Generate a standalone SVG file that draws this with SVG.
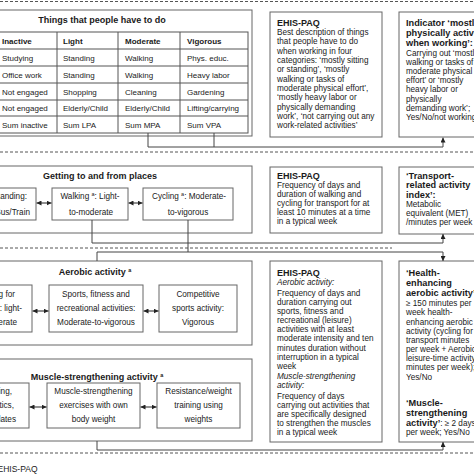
<svg xmlns="http://www.w3.org/2000/svg" width="474" height="474" viewBox="0 0 474 474">
<defs>
<marker id="ah" viewBox="0 0 10 10" refX="10" refY="5" markerWidth="5" markerHeight="5" markerUnits="userSpaceOnUse" orient="auto-start-reverse"><path d="M0,0 L10,5 L0,10 z" fill="#222"/></marker>
<style>
text{font-family:"Liberation Sans",Arial,sans-serif;fill:#1a1a1a}
.box{fill:#fff;stroke:#666;stroke-width:1}
.grid{fill:none;stroke:#555;stroke-width:1}
.t{font-size:8px}
.th{font-size:8px;font-weight:bold}
.h{font-size:9px;font-weight:bold}
.hb{font-size:9.2px;font-weight:bold}
.d{font-size:8.2px}
.i{font-size:8.2px;font-style:italic}
.c{text-anchor:middle}
.e{text-anchor:end}
.dash{stroke:#555;stroke-width:1;stroke-dasharray:3,2;fill:none}
.con{stroke:#444;stroke-width:1;fill:none}
.dbl{stroke:#222;stroke-width:1;fill:none;marker-start:url(#ah);marker-end:url(#ah)}
.sup{font-size:5.5px}
</style>
</defs>

<g id="separators">
<line class="dash" x1="0" y1="1.5" x2="474" y2="1.5"/>
<line class="dash" x1="0" y1="152" x2="474" y2="152"/>
<line class="dash" x1="0" y1="248" x2="392" y2="248"/>
<line class="dash" x1="0" y1="453" x2="474" y2="453"/>
</g>

<g id="work-activities">
<rect class="box" x="-60" y="10" width="312" height="126"/>
<text class="h c" x="102" y="23">Things that people have to do</text>
<rect class="grid" x="-4" y="32" width="252" height="101"/>
<path class="grid" d="M-4,49H248M-4,66H248M-4,83H248M-4,100H248M-4,116H248M57,32V133M118,32V133M180,32V133"/>
<text class="th" x="2" y="43.5">Inactive</text>
<text class="th" x="63" y="43.5">Light</text>
<text class="th" x="125" y="43.5">Moderate</text>
<text class="th" x="187" y="43.5">Vigorous</text>
<text class="t" x="2" y="60.5">Studying</text>
<text class="t" x="63" y="60.5">Standing</text>
<text class="t" x="125" y="60.5">Walking</text>
<text class="t" x="187" y="60.5">Phys. educ.</text>
<text class="t" x="2" y="77.5">Office work</text>
<text class="t" x="63" y="77.5">Standing</text>
<text class="t" x="125" y="77.5">Walking</text>
<text class="t" x="187" y="77.5">Heavy labor</text>
<text class="t" x="2" y="94.5">Not engaged</text>
<text class="t" x="63" y="94.5">Shopping</text>
<text class="t" x="125" y="94.5">Cleaning</text>
<text class="t" x="187" y="94.5">Gardening</text>
<text class="t" x="2" y="111">Not engaged</text>
<text class="t" x="63" y="111">Elderly/Child</text>
<text class="t" x="125" y="111">Elderly/Child</text>
<text class="t" x="187" y="111">Lifting/carrying</text>
<text class="t" x="2" y="127.5">Sum inactive</text>
<text class="t" x="63" y="127.5">Sum LPA</text>
<text class="t" x="125" y="127.5">Sum MPA</text>
<text class="t" x="187" y="127.5">Sum VPA</text>
</g>

<g id="ehis-work">
<rect class="box" x="270" y="12" width="112" height="125"/>
<text class="h" x="277" y="25.5">EHIS-PAQ</text>
<text class="d" x="277" y="35">Best description of things</text>
<text class="d" x="277" y="44.4">that people have to do</text>
<text class="d" x="277" y="53.7">when working in four</text>
<text class="d" x="277" y="63">categories: ‘mostly sitting</text>
<text class="d" x="277" y="72.4">or standing’, ‘mostly</text>
<text class="d" x="277" y="81.7">walking or tasks of</text>
<text class="d" x="277" y="91">moderate physical effort’,</text>
<text class="d" x="277" y="100.4">‘mostly heavy labor or</text>
<text class="d" x="277" y="109.7">physically demanding</text>
<text class="d" x="277" y="119">work’, ‘not carrying out any</text>
<text class="d" x="277" y="128.4">work-related activities’</text>
</g>

<g id="indicator-work">
<rect class="box" x="399" y="12" width="90" height="125"/>
<text class="hb" x="406" y="25.5">Indicator ‘mostly</text>
<text class="hb" x="406" y="35.5">physically active</text>
<text class="hb" x="406" y="45.5">when working’:</text>
<text class="d" x="406" y="56">Carrying out ‘mostly</text>
<text class="d" x="406" y="65">walking or tasks of</text>
<text class="d" x="406" y="74">moderate physical</text>
<text class="d" x="406" y="83">effort’ or ‘mostly</text>
<text class="d" x="406" y="92">heavy labor or</text>
<text class="d" x="406" y="102">physically</text>
<text class="d" x="406" y="111">demanding work’;</text>
<text class="d" x="406" y="120">Yes/No/not working</text>
</g>

<g id="transport">
<rect class="box" x="-60" y="166" width="312" height="67"/>
<text class="h c" x="100" y="179">Getting to and from places</text>
</g>
<g id="standing">
<rect class="box" x="-50" y="188" width="86" height="32"/>
<text class="d e" x="27" y="198.5">Standing:</text>
<text class="d e" x="30" y="215">Bus/Train</text>
</g>
<g id="walking">
<rect class="box" x="52" y="188" width="76" height="32"/>
<text class="d c" x="90" y="198.5">Walking <tspan class="sup" dy="-3">a</tspan><tspan dy="3">: Light-</tspan></text>
<text class="d c" x="91" y="215">to-moderate</text>
</g>
<g id="cycling">
<rect class="box" x="143" y="188" width="90" height="32"/>
<text class="d c" x="189" y="198.5">Cycling <tspan class="sup" dy="-3">a</tspan><tspan dy="3">: Moderate-</tspan></text>
<text class="d c" x="188" y="215">to-vigorous</text>
</g>

<g id="ehis-transport">
<rect class="box" x="270" y="167" width="112" height="66"/>
<text class="h" x="277" y="178.5">EHIS-PAQ</text>
<text class="d" x="277" y="188">Frequency of days and</text>
<text class="d" x="277" y="197">duration of walking and</text>
<text class="d" x="277" y="206">cycling for transport for at</text>
<text class="d" x="277" y="215">least 10 minutes at a time</text>
<text class="d" x="277" y="224">in a typical week</text>
</g>

<g id="indicator-transport">
<rect class="box" x="399" y="167" width="90" height="67"/>
<text class="hb" x="406" y="178.5">‘Transport-</text>
<text class="hb" x="406" y="188">related activity</text>
<text class="hb" x="406" y="197.5">index’:</text>
<text class="d" x="406" y="207">Metabolic</text>
<text class="d" x="406" y="216">equivalent (MET)</text>
<text class="d" x="406" y="225">/minutes per week</text>
</g>

<g id="aerobic">
<rect class="box" x="-60" y="261" width="312" height="84"/>
<text class="h c" x="95" y="275">Aerobic activity <tspan class="sup" dy="-3">a</tspan></text>
</g>
<g id="walking-leisure">
<rect class="box" x="-50" y="285" width="82" height="47"/>
<text class="d e" x="15" y="297">Walking for</text>
<text class="d e" x="22" y="311">leisure: light-</text>
<text class="d e" x="17" y="325">to-moderate</text>
</g>
<g id="sports">
<rect class="box" x="49" y="285" width="94" height="47"/>
<text class="d c" x="96" y="297">Sports, fitness and</text>
<text class="d c" x="96" y="311">recreational activities:</text>
<text class="d c" x="96" y="325">Moderate-to-vigorous</text>
</g>
<g id="competitive">
<rect class="box" x="159" y="285" width="78" height="47"/>
<text class="d c" x="198" y="297">Competitive</text>
<text class="d c" x="198" y="311">sports activity:</text>
<text class="d c" x="198" y="325">Vigorous</text>
</g>

<g id="muscle">
<rect class="box" x="-60" y="359" width="312" height="82"/>
<text class="h c" x="97" y="380">Muscle-strengthening activity <tspan class="sup" dy="-3">a</tspan></text>
</g>
<g id="stretching">
<rect class="box" x="-50" y="383" width="79" height="45"/>
<text class="d e" x="12" y="394">Stretching,</text>
<text class="d e" x="14" y="408">gymnastics,</text>
<text class="d e" x="16" y="422">pilates</text>
</g>
<g id="bodyweight">
<rect class="box" x="47" y="383" width="93" height="45"/>
<text class="d c" x="93.5" y="394">Muscle-strengthening</text>
<text class="d c" x="93.5" y="408">exercises with own</text>
<text class="d c" x="93.5" y="422">body weight</text>
</g>
<g id="weights">
<rect class="box" x="157" y="383" width="83" height="45"/>
<text class="d c" x="198.5" y="394">Resistance/weight</text>
<text class="d c" x="198.5" y="408">training using</text>
<text class="d c" x="198.5" y="422">weights</text>
</g>

<g id="ehis-leisure">
<rect class="box" x="270" y="261" width="112" height="181"/>
<text class="h" x="277" y="275.5">EHIS-PAQ</text>
<text class="i" x="277" y="285">Aerobic activity:</text>
<text class="d" x="277" y="296">Frequency of days and</text>
<text class="d" x="277" y="305">duration carrying out</text>
<text class="d" x="277" y="314">sports, fitness and</text>
<text class="d" x="277" y="323.2">recreational (leisure)</text>
<text class="d" x="277" y="332.3">activities with at least</text>
<text class="d" x="277" y="341.4">moderate intensity and ten</text>
<text class="d" x="277" y="350.6">minutes duration without</text>
<text class="d" x="277" y="359.8">interruption in a typical</text>
<text class="d" x="277" y="369">week</text>
<text class="i" x="277" y="378.5">Muscle-strengthening</text>
<text class="i" x="277" y="387.5">activity:</text>
<text class="d" x="277" y="398.5">Frequency of days</text>
<text class="d" x="277" y="407.5">carrying out activities that</text>
<text class="d" x="277" y="416.5">are specifically designed</text>
<text class="d" x="277" y="425.5">to strengthen the muscles</text>
<text class="d" x="277" y="435">in a typical week</text>
</g>

<g id="indicator-leisure">
<rect class="box" x="399" y="261" width="90" height="181"/>
<text class="hb" x="406" y="275.5">‘Health-</text>
<text class="hb" x="406" y="285.5">enhancing</text>
<text class="hb" x="406" y="295.5">aerobic activity’:</text>
<text class="d" x="406" y="306">≥ 150 minutes per</text>
<text class="d" x="406" y="315">week health-</text>
<text class="d" x="406" y="325">enhancing aerobic</text>
<text class="d" x="406" y="334">activity (cycling for</text>
<text class="d" x="406" y="343">transport minutes</text>
<text class="d" x="406" y="352">per week + Aerobic</text>
<text class="d" x="406" y="361">leisure-time activity</text>
<text class="d" x="406" y="370">minutes per week);</text>
<text class="d" x="406" y="380">Yes/No</text>
<text class="hb" x="406" y="405.5">‘Muscle-</text>
<text class="hb" x="406" y="415.5">strengthening</text>
<text class="d" x="406" y="425.5"><tspan class="hb">activity’</tspan>: ≥ 2 days</text>
<text class="d" x="406" y="435">per week; Yes/No</text>
</g>

<g id="connectors">
<path class="con" d="M214,133V147"/>
<path class="con" marker-end="url(#ah)" d="M148,133V147H443V137.5"/>
<path class="con" marker-end="url(#ah)" d="M92,220V243H443V234"/>
<path class="con" d="M188,220V252"/>
<path class="con" marker-end="url(#ah)" d="M97,261V252H443V261"/>
<path class="con" marker-end="url(#ah)" d="M97,441V450H443V442"/>
<line class="dbl" x1="36.5" y1="203" x2="51.5" y2="203"/>
<line class="dbl" x1="128.5" y1="203" x2="142.5" y2="203"/>
<line class="dbl" x1="32.5" y1="311" x2="48.5" y2="311"/>
<line class="dbl" x1="143.5" y1="311" x2="158.5" y2="311"/>
<line class="dbl" x1="29.5" y1="407" x2="46.5" y2="407"/>
<line class="dbl" x1="140.5" y1="407" x2="156.5" y2="407"/>
</g>

<text class="e" x="37.5" y="472" style="font-size:8.5px">EHIS-PAQ</text>
</svg>
